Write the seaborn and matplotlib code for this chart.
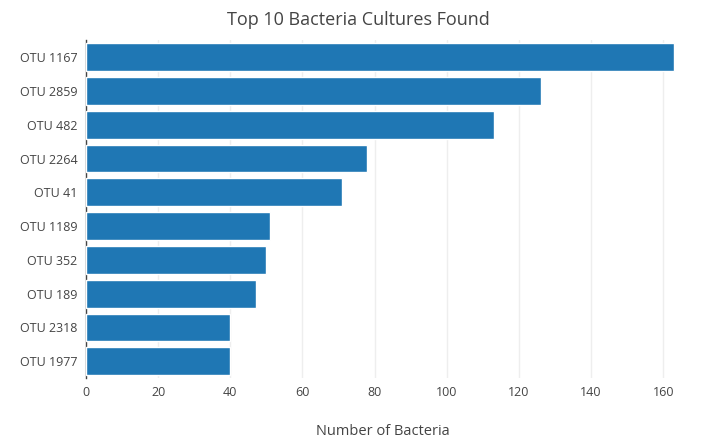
import matplotlib
matplotlib.use("Agg")
import matplotlib.pyplot as plt
import seaborn as sns
import pandas as pd

# Top 10 OTUs by sample value
otu_labels = ["OTU 1167", "OTU 2859", "OTU 482", "OTU 2264", "OTU 41",
              "OTU 1189", "OTU 352", "OTU 189", "OTU 2318", "OTU 1977"]
bacteria_counts = [163, 126, 113, 78, 71, 51, 50, 47, 40, 40]
x_ticks = [0, 20, 40, 60, 80, 100, 120, 140, 160]

df = pd.DataFrame({"otu": otu_labels, "count": bacteria_counts})

sns.set_style("white")
plt.rcParams["font.family"] = ["Open Sans", "DejaVu Sans"]

fig = plt.figure(figsize=(7.16, 4.48), dpi=100)
ax = fig.add_axes([0.12, 0.156, 0.83, 0.754])

sns.barplot(data=df, x="count", y="otu", color="#1f77b4", saturation=1,
            width=0.82, ax=ax, zorder=3)

ax.set_xlim(0, 164.7)
ax.set_ylim(9.5, -0.5)
ax.set_xticks(x_ticks)
ax.grid(axis="x", color="#eeeeee", linewidth=1, zorder=0)
for side in ["top", "right", "bottom"]:
    ax.spines[side].set_visible(False)
ax.spines["left"].set_color("#444444")
ax.spines["left"].set_linewidth(1)
ax.tick_params(axis="both", length=0, labelsize=9, colors="#444444", pad=6)

ax.set_ylabel("")
ax.set_xlabel("Number of Bacteria", fontsize=10.5, color="#444444", labelpad=18)
fig.suptitle("Top 10 Bacteria Cultures Found", fontsize=13, color="#444444",
             y=0.975)

plt.savefig("out.png", dpi=100)
